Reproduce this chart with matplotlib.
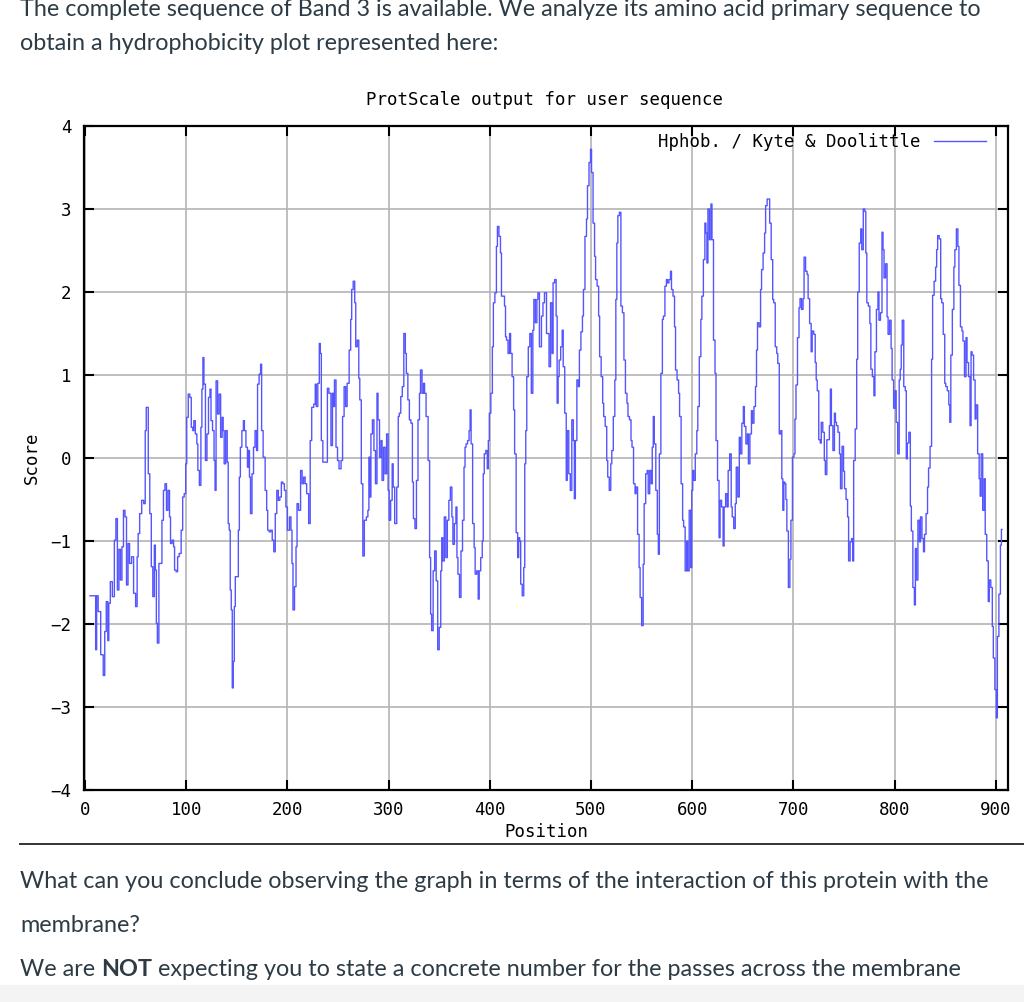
import matplotlib

matplotlib.use("Agg")
import matplotlib.pyplot as plt
from matplotlib.lines import Line2D
from matplotlib.patches import Rectangle

# Kyte & Doolittle hydrophobicity profile
positions = [
    5, 10, 11, 12, 14, 17, 19, 20, 22, 23, 24, 26, 28, 30, 31, 33, 34, 36, 37, 39,
    40, 42, 43, 45, 47, 49, 51, 52, 53, 55, 57, 59, 60, 61, 62, 63, 65, 66, 68, 69,
    70, 71, 72, 74, 75, 77, 78, 80, 81, 83, 84, 85, 87, 88, 89, 91, 92, 94, 96, 97,
    99, 100, 101, 103, 104, 106, 107, 108, 110, 111, 112, 114, 115, 116, 117, 118, 120, 121, 123, 124,
    125, 127, 128, 129, 130, 132, 133, 135, 136, 137, 138, 140, 141, 142, 143, 144, 145, 146, 147, 148,
    149, 151, 152, 153, 154, 156, 157, 158, 160, 161, 162, 163, 164, 166, 167, 169, 170, 171, 173, 174,
    175, 177, 179, 180, 181, 183, 184, 186, 187, 189, 190, 192, 193, 195, 196, 198, 199, 201, 203, 204,
    205, 206, 208, 209, 210, 212, 214, 215, 217, 218, 220, 222, 223, 225, 227, 228, 229, 231, 232, 233,
    234, 236, 239, 240, 242, 244, 245, 246, 247, 249, 250, 252, 254, 255, 257, 258, 260, 262, 263, 264,
    266, 267, 268, 270, 271, 272, 274, 275, 277, 279, 280, 281, 282, 283, 285, 286, 288, 289, 290, 292,
    293, 294, 296, 297, 299, 300, 301, 303, 304, 305, 307, 309, 310, 311, 313, 314, 316, 317, 318, 320,
    321, 323, 324, 325, 327, 328, 330, 331, 332, 334, 335, 336, 338, 340, 341, 342, 343, 345, 346, 348,
    349, 351, 352, 353, 354, 356, 357, 359, 360, 362, 363, 364, 366, 367, 368, 369, 371, 372, 374, 375,
    376, 377, 379, 380, 381, 382, 384, 385, 386, 388, 389, 390, 392, 393, 394, 395, 397, 398, 399, 400,
    402, 403, 404, 406, 407, 408, 410, 411, 412, 414, 415, 416, 417, 419, 420, 421, 423, 424, 425, 427,
    428, 429, 430, 431, 433, 434, 435, 436, 437, 439, 440, 442, 443, 444, 446, 447, 448, 450, 452, 453,
    455, 457, 458, 459, 461, 462, 463, 465, 466, 467, 468, 469, 471, 472, 473, 475, 476, 477, 479, 480,
    482, 483, 484, 485, 487, 488, 489, 491, 492, 493, 495, 496, 497, 499, 500, 501, 503, 504, 505, 507,
    508, 509, 511, 512, 513, 515, 516, 517, 519, 520, 521, 523, 524, 525, 526, 527, 529, 530, 532, 533,
    535, 536, 537, 539, 540, 541, 543, 544, 545, 547, 548, 549, 551, 552, 553, 555, 556, 557, 559, 560,
    561, 562, 563, 565, 566, 567, 568, 570, 571, 572, 574, 575, 576, 578, 579, 580, 582, 583, 584, 586,
    587, 588, 590, 591, 592, 594, 595, 596, 598, 599, 600, 601, 602, 604, 605, 606, 608, 609, 610, 612,
    613, 614, 615, 616, 618, 619, 620, 622, 623, 624, 626, 627, 628, 630, 631, 632, 634, 635, 636, 638,
    639, 640, 642, 643, 644, 646, 647, 648, 650, 651, 652, 654, 655, 656, 658, 659, 660, 662, 663, 664,
    665, 667, 668, 669, 671, 672, 673, 675, 676, 677, 679, 680, 681, 683, 684, 685, 687, 688, 689, 690,
    691, 692, 693, 694, 696, 697, 698, 700, 701, 702, 703, 705, 706, 707, 709, 710, 711, 713, 714, 715,
    717, 718, 719, 721, 722, 723, 724, 726, 727, 728, 730, 731, 732, 734, 735, 736, 737, 738, 740, 741,
    742, 743, 745, 746, 747, 749, 750, 751, 753, 754, 755, 757, 758, 759, 760, 762, 763, 764, 766, 767,
    768, 770, 771, 772, 773, 775, 776, 777, 779, 780, 781, 783, 784, 785, 787, 788, 789, 790, 792, 793,
    794, 796, 797, 798, 800, 801, 802, 804, 805, 806, 807, 808, 810, 811, 812, 813, 815, 816, 817, 819,
    820, 821, 822, 824, 825, 826, 828, 829, 830, 832, 833, 834, 836, 837, 838, 840, 841, 842, 843, 845,
    846, 847, 849, 850, 851, 853, 854, 855, 856, 858, 859, 860, 862, 863, 864, 866, 867, 868, 870, 871,
    872, 874, 875, 876, 877, 879, 880, 881, 883, 884, 885, 886, 888, 889, 890, 892, 893, 894, 896, 897,
    898, 900, 901, 902, 904, 905, 906,
]
scores = [
    -1.66, -1.66, -2.31, -1.66, -1.85, -2.37, -2.62, -2.09, -1.73, -2.20, -1.75, -1.49, -1.67, -0.99, -0.73, -1.59, -1.10, -1.47, -1.07, -0.63,
    -0.71, -1.53, -1.03, -1.27, -1.19, -1.63, -1.79, -1.19, -0.91, -0.67, -0.51, -0.55, 0.33, 0.61, 0.61, -0.19, -0.67, -1.31, -1.67, -1.05,
    -1.35, -1.99, -2.23, -1.27, -1.27, -0.75, -0.39, -0.31, -0.63, -0.39, -0.71, -1.03, -0.99, -1.07, -1.35, -1.37, -1.19, -1.15, -0.87, -0.47,
    -0.43, -0.07, 0.49, 0.77, 0.73, 0.37, 0.33, 0.45, 0.29, 0.17, -0.15, -0.33, 0.37, 0.83, 1.21, 0.89, -0.03, 0.29, 0.73, 0.83,
    0.45, 0.33, -0.03, -0.39, 0.93, 0.53, 0.77, 0.25, 0.49, 0.33, -0.07, 0.33, -0.05, -0.79, -0.87, -1.59, -1.83, -2.77, -2.45, -1.79,
    -1.43, -1.43, -0.87, -0.23, 0.13, 0.33, 0.45, 0.33, 0.13, -0.11, 0.09, -0.23, -0.67, -0.19, 0.13, 0.33, 0.09, 0.89, 1.01, 1.13,
    0.33, 0.01, -0.39, -0.63, -0.87, -0.89, -0.87, -0.99, -1.13, -0.67, -0.39, -0.51, -0.47, -0.29, -0.31, -0.39, -0.59, -0.87, -0.71, -0.87,
    -1.27, -1.83, -1.55, -1.07, -0.55, -0.63, -0.15, -0.31, -0.23, -0.31, -0.43, -0.79, 0.21, 0.61, 0.65, 0.89, 0.62, 0.90, 1.38, 1.26,
    0.21, -0.05, -0.05, 0.84, 0.78, 0.15, 0.78, 0.62, 0.94, 0.13, -0.03, -0.13, -0.03, 0.50, 0.86, 0.62, 0.90, 1.30, 1.67, 2.03,
    2.13, 1.87, 1.34, 1.42, 0.96, 0.70, -0.31, -1.18, -0.75, -0.71, -0.63, 0.01, -0.47, 0.29, 0.46, 0.09, -0.31, 0.78, 0.46, 0.01,
    0.21, -0.27, 0.13, -0.19, 0.29, -0.39, -0.75, -0.51, -0.07, -0.35, -0.79, -0.35, 0.50, 0.54, 0.74, 0.86, 1.50, 1.26, 1.02, 0.70,
    0.46, 0.42, -0.29, -0.73, -0.85, -0.27, 0.46, 0.78, 1.06, 0.78, 0.90, 0.78, 0.50, -0.03, -1.20, -1.88, -2.08, -1.36, -1.12, -1.48,
    -2.31, -2.04, -1.36, -0.96, -1.24, -0.71, -1.20, -0.75, -0.51, -0.35, -0.71, -1.04, -0.79, -0.59, -1.20, -1.40, -1.68, -1.12, -0.75, -0.11,
    0.13, 0.17, 0.21, 0.33, 0.58, 0.17, -0.79, -1.08, -1.40, -1.36, -1.70, -1.36, -1.20, -1.00, -0.19, 0.05, 0.09, -0.13, 0.21, 0.54,
    0.78, 1.34, 1.87, 1.99, 2.55, 2.79, 2.67, 2.47, 1.95, 1.95, 1.83, 1.46, 1.42, 1.26, 1.50, 1.26, 0.98, 0.58, 0.05, -0.90,
    -1.20, -0.96, -1.00, -1.52, -1.66, -1.32, -0.07, 0.33, 0.98, 1.34, 1.50, 0.78, 1.54, 1.91, 1.63, 1.91, 1.99, 1.34, 1.71, 1.87,
    1.99, 1.50, 1.50, 1.10, 1.87, 1.26, 2.11, 2.15, 1.71, 0.66, 0.98, 1.18, 1.34, 1.54, 1.10, 0.54, -0.27, 0.33, -0.19, -0.39,
    0.46, 0.21, -0.49, 0.21, 0.94, 0.86, 1.30, 1.52, 1.71, 2.03, 2.67, 2.88, 3.28, 3.56, 3.72, 3.44, 2.83, 2.43, 2.15, 2.07,
    1.71, 1.22, 0.98, 0.66, 0.50, 0.38, -0.03, -0.23, -0.39, -0.07, 0.09, 0.50, 0.94, 1.91, 2.59, 2.92, 2.96, 1.83, 1.75, 1.18,
    0.78, 0.66, 0.50, 0.46, 0.21, 0.13, -0.31, -0.43, -0.35, -0.92, -1.32, -1.68, -2.02, -1.28, -0.55, -0.19, -0.15, -0.43, -0.15, -0.31,
    0.13, 0.50, 0.17, -0.39, -0.92, -1.16, 0.05, 1.02, 1.67, 1.71, 2.07, 2.15, 2.11, 2.15, 2.25, 2.03, 1.95, 1.58, 1.06, 0.94,
    0.78, 0.50, -0.31, -0.75, -0.83, -1.36, -1.00, -1.36, -0.63, -1.32, -0.39, -0.15, -0.27, 0.05, 0.33, 0.62, 1.22, 1.67, 1.95, 2.39,
    2.83, 2.71, 2.35, 3.00, 2.63, 3.06, 2.63, 1.42, 1.02, 0.21, -0.27, -0.96, -0.51, -0.59, -1.06, -0.59, -0.43, -0.59, -0.15, 0.05,
    -0.59, -0.71, -0.85, -0.55, -0.11, -0.47, 0.25, 0.05, 0.42, 0.62, 0.38, 0.17, 0.29, -0.07, 0.29, 0.57, 0.42, 0.62, 0.86, 1.30,
    1.63, 1.58, 2.03, 2.27, 2.47, 2.71, 3.04, 3.12, 3.12, 2.83, 2.39, 1.91, 1.87, 1.34, 1.26, 1.14, 0.29, 0.33, -0.25, -0.63,
    -0.29, -0.31, -0.50, -0.88, -1.56, -1.22, -0.75, 0.01, 0.05, 0.47, 0.88, 1.45, 1.81, 1.92, 1.79, 1.92, 2.42, 2.25, 2.21, 1.92,
    1.62, 1.28, 1.53, 1.49, 1.15, 0.94, 0.81, 0.22, 0.18, 0.43, 0.31, -0.03, -0.20, 0.22, 0.22, 0.39, 0.83, 0.39, 0.09, 0.54,
    0.43, 0.39, 0.31, 0.05, -0.37, 0.14, -0.16, -0.37, -0.50, -0.71, -1.24, -1.01, -0.97, -1.24, -0.03, 0.35, 1.19, 2.00, 2.59, 2.76,
    2.51, 3.00, 2.97, 2.47, 1.87, 1.83, 1.62, 1.07, 0.98, 0.75, 1.28, 1.79, 2.00, 1.66, 1.75, 2.72, 2.51, 2.17, 2.34, 1.70,
    1.49, 1.66, 1.32, 0.94, 0.60, 0.81, 0.43, 0.05, 0.94, 1.07, 1.36, 1.66, 0.86, 0.81, -0.01, 0.18, 0.31, -0.58, -0.88, -1.56,
    -1.77, -1.09, -1.47, -0.75, -1.01, -0.71, -0.97, -1.13, -0.92, -0.67, -0.35, -0.12, 0.14, 1.19, 1.96, 2.13, 2.30, 2.51, 2.68, 2.64,
    1.92, 1.87, 1.49, 0.90, 0.86, 0.81, 0.64, 0.43, 1.24, 1.79, 2.30, 2.51, 2.76, 2.55, 2.08, 1.58, 1.53, 1.41, 0.98, 1.45,
    1.15, 0.98, 0.39, 1.28, 1.24, 0.94, 0.47, 0.64, 0.05, -0.25, -0.46, 0.05, -0.63, -0.25, -0.92, -1.24, -1.73, -1.47, -1.56, -2.03,
    -2.41, -2.79, -3.13, -2.15, -1.64, -1.05, -0.86,
]

x_ticks = [0, 100, 200, 300, 400, 500, 600, 700, 800, 900]
y_ticks = [-4, -3, -2, -1, 0, 1, 2, 3, 4]

title = "ProtScale output for user sequence"
legend_label = "Hphob. / Kyte & Doolittle"
intro_lines = [
    "The complete sequence of Band 3 is available. We analyze its amino acid primary sequence to",
    "obtain a hydrophobicity plot represented here:",
]
question_lines = [
    "What can you conclude observing the graph in terms of the interaction of this protein with the",
    "membrane?",
]
note_parts = ["We are", "NOT", "expecting you to state a concrete number for the passes across the membrane"]

LINE_BLUE = "#5555ff"
TEXT_COLOR = "#2d3b45"
MONO = "DejaVu Sans Mono"
PAGE_FONT = "Lato"
mono_size = 12.5
page_size = 16.8

W, H = 1024, 1002
fig = plt.figure(figsize=(W / 100, H / 100), dpi=100)
fig.patch.set_facecolor("white")

# plot area in pixel terms of the screenshot
ax = fig.add_axes([84 / W, 1 - 790 / H, (1008 - 84) / W, (790 - 126) / H])
ax.plot(positions, scores, color=LINE_BLUE, lw=1.0, drawstyle="steps-mid", label=legend_label)
ax.set_xlim(-1, 912)
ax.set_ylim(-4, 4)
ax.set_xticks(x_ticks)
ax.set_yticks(y_ticks)
ax.grid(True, color="#b4b4b4", lw=1.2)
ax.set_axisbelow(True)
ax.tick_params(direction="in", length=7, width=1.5, top=True, right=True, labelsize=mono_size, colors="black")
ax.tick_params(axis="x", pad=8)
ax.tick_params(axis="y", pad=9)
for label in ax.get_xticklabels() + ax.get_yticklabels():
    label.set_fontfamily(MONO)
for spine in ax.spines.values():
    spine.set_linewidth(1.6)

ax.legend(loc="upper right", bbox_to_anchor=((986 - 84) / 924, 1 - 7 / 664), frameon=False,
          markerfirst=False, handlelength=3.0, handletextpad=0.8, borderpad=0, borderaxespad=0,
          prop={"family": MONO, "size": mono_size})

fig.text(545 / W, 1 - 100 / H, title, ha="center", va="center", family=MONO, fontsize=mono_size)
fig.text(546 / W, 1 - 832 / H, "Position", ha="center", va="center", family=MONO, fontsize=mono_size)
fig.text(32 / W, 1 - 458 / H, "Score", ha="center", va="center", rotation=90, family=MONO, fontsize=mono_size)

# surrounding page text
for y_px, line in zip([10, 43], intro_lines):
    fig.text(20 / W, 1 - y_px / H, line, ha="left", va="center", family=PAGE_FONT,
             fontsize=page_size, color=TEXT_COLOR)
for y_px, line in zip([882, 926], question_lines):
    fig.text(20 / W, 1 - y_px / H, line, ha="left", va="center", family=PAGE_FONT,
             fontsize=page_size, color=TEXT_COLOR)

first = fig.text(20 / W, 1 - 969 / H, note_parts[0], ha="left", va="center", family=PAGE_FONT,
                 fontsize=page_size, color=TEXT_COLOR)
bold = fig.text(0, 0, note_parts[1], ha="left", va="center", family=PAGE_FONT,
                fontsize=page_size, color=TEXT_COLOR, weight="bold")
rest = fig.text(0, 0, note_parts[2], ha="left", va="center", family=PAGE_FONT,
                fontsize=page_size, color=TEXT_COLOR)
renderer = fig.canvas.get_renderer()
gap = 6
bb = first.get_window_extent(renderer)
bold.set_position(((bb.x1 + gap) / W, 1 - 969 / H))
bb = bold.get_window_extent(renderer)
rest.set_position(((bb.x1 + gap) / W, 1 - 969 / H))

fig.add_artist(Line2D([20 / W, 1], [1 - 844 / H] * 2, color="#333333", lw=1.4))
fig.add_artist(Rectangle((0, 0), 1, 17 / H, transform=fig.transFigure, color="#f4f4f4", zorder=0))

fig.savefig("out.png", dpi=100)
